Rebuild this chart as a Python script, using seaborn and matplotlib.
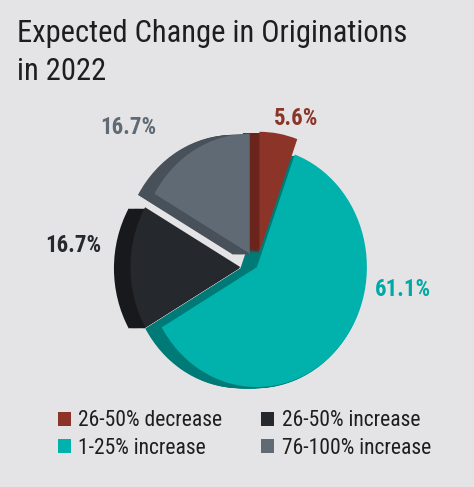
import numpy as np
import matplotlib.pyplot as plt
import seaborn as sns

# data
categories = ['26-50% decrease', '1-25% increase', '26-50% increase', '76-100% increase']
shares = [5.6, 61.1, 16.7, 16.7]
top_colors = ['#8c3428', '#00b1ac', '#25282c', '#5f6a74']
side_colors = ['#6a241b', '#007a76', '#17191c', '#48515a']
label_colors = ['#8c3428', '#00a9a4', '#25282c', '#5f6a74']
explode = [0.13, 0.0, 0.15, 0.13]

sns.set_theme(style='white')
plt.rcParams['font.family'] = ['Roboto Condensed', 'Liberation Sans Narrow',
                               'DejaVu Sans Condensed', 'Roboto', 'DejaVu Sans']
plt.rcParams['font.stretch'] = 'condensed'

bg = '#e4e4e6'
fig = plt.figure(figsize=(4.74, 4.87), dpi=100, facecolor=bg)

fig.text(0.036, 0.962, 'Expected Change in Originations\nin 2022', fontsize=22,
         color='#1e1e1e', va='top', ha='left', linespacing=1.42)

# pie drawn a bit taller than wide, like the tilted original
ax = fig.add_axes([0.194, 0.082, 0.696, 0.739])
ax.set_facecolor(bg)
ax.axis('off')

# extruded sides to fake the 3d look
for dx in np.linspace(-0.15, -0.01, 15):
    ax.pie(shares, colors=side_colors, startangle=90, counterclock=False,
           explode=explode, center=(dx, -0.01), radius=1.0,
           wedgeprops=dict(linewidth=0))

ax.pie(shares, colors=top_colors, startangle=90, counterclock=False,
       explode=explode, center=(0, 0), radius=1.0,
       wedgeprops=dict(linewidth=0))
wedges = ax.patches[-len(shares):]

ax.set_xlim(-1.5, 1.5)
ax.set_ylim(-1.5, 1.5)
ax.set_aspect('auto')

label_pos = [(0.36, 1.24), (1.33, -0.19), (-1.67, 0.18), (-1.17, 1.16)]
for v, (x, y), c in zip(shares, label_pos, label_colors):
    ax.text(x, y, f'{v:.1f}%', color=c, fontsize=16.5, fontweight='bold',
            ha='center', va='center')

leg = fig.legend(wedges, categories, ncol=2, loc='upper left',
                 bbox_to_anchor=(0.104, 0.175), frameon=False, fontsize=15.5,
                 handlelength=0.6, handleheight=0.6, handletextpad=0.35,
                 columnspacing=1.8, labelspacing=0.3, borderaxespad=0)
for t in leg.get_texts():
    t.set_color('#1e1e1e')

fig.savefig('out.png', dpi=100, facecolor=bg)
